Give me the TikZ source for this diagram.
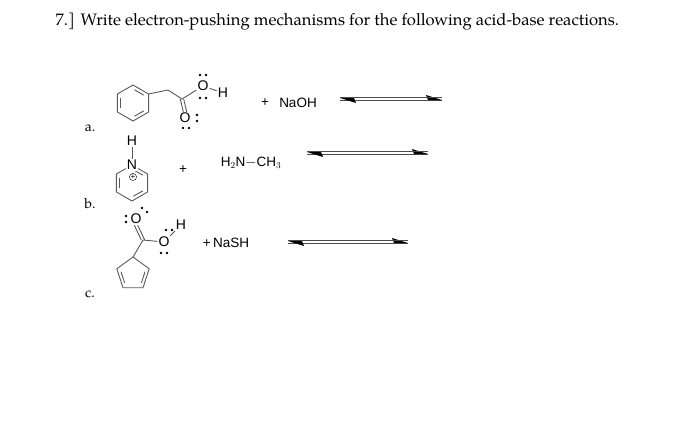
\documentclass[tikz,border=0pt]{standalone}
\usetikzlibrary{calc}
\usepackage{fontspec}
\setmainfont{TeX Gyre Pagella}
\newfontfamily\hv{Liberation Sans}
\begin{document}
\begin{tikzpicture}[x=1pt,y=-1pt,
  bond/.style={line width=0.9pt,black!65},
  lbl/.style={font=\hv\fontsize{13.5}{13.5}\selectfont,inner sep=0.5pt},
  atom/.style={font=\hv\fontsize{14}{14}\selectfont,inner sep=1pt,fill=white},
  eqtop/.style={line width=1.3pt,gray!60!black},
  lp/.style={circle,fill=black,inner sep=0.9pt}]
\useasboundingbox (0,0) rectangle (700,440);
\newcommand\inb[3]{\draw[bond] ($($(#3)!0.78!(#1)$)!0.12!($(#3)!0.78!(#2)$)$) -- ($($(#3)!0.78!(#2)$)!0.12!($(#3)!0.78!(#1)$)$);}
\node[anchor=west,font=\fontsize{16.6}{16.6}\selectfont] (title) at (52,22) {7.] Write electron-pushing mechanisms for the following acid-base reactions.};
\node[font=\fontsize{14}{14}\selectfont] (la) at (90,128) {a.};
\node[font=\fontsize{14}{14}\selectfont] (lb) at (90,203) {b.};
\node[font=\fontsize{14}{14}\selectfont] (lc) at (90,294) {c.};
% a
\coordinate (bc) at (133,103);
\foreach \i in {0,...,5}{\coordinate (b\i) at ({133+18*cos(30+60*\i)},{103-18*sin(30+60*\i)});}
\draw[bond] (b0)--(b1)--(b2)--(b3)--(b4)--(b5)--cycle;
\inb{b2}{b3}{bc} \inb{b0}{b1}{bc} \inb{b4}{b5}{bc}
\coordinate (ch2) at (168,90);
\coordinate (ca) at (182,99);
\node[atom] (oa1) at (185,118) {O};
\node[atom] (oa2) at (203,86) {O};
\node[atom] (ha) at (223,93) {H};
\draw[bond] (b0)--(ch2)--(ca)--(oa2);
\draw[bond] (oa2)--(ha);
\draw[bond] ([xshift=-1.7]ca)--([xshift=-1.7]oa1.north);
\draw[bond] ([xshift=1.7]ca)--([xshift=1.7]oa1.north);
\foreach \p in {(200,75),(206,75),(200,98),(206,98),(197,115),(197,121),(183,128),(189,128)} \node[lp] at \p {};
\node[lbl] (pa) at (265,103) {+};
\node[lbl] (na) at (298,103) {NaOH};
\coordinate (a1) at (340,99); \coordinate (a2) at (442,99);
% b
\coordinate (pc) at (132,183);
\foreach \i in {0,...,5}{\coordinate (p\i) at ({132+18*cos(30+60*\i)},{183-18*sin(30+60*\i)});}
\node[atom] (nb) at (p1) {N};
\node[atom] (hb) at (132,141) {H};
\draw[bond] (nb)--(hb);
\draw[bond] (nb)--(p2)--(p3)--(p4)--(p5)--(p0)--(nb);
\inb{p2}{p3}{pc} \inb{p4}{p5}{pc} \inb{p0}{p1}{pc}
\node[atom] at (p1) {N};
\node[draw,circle,inner sep=0.2pt,font=\hv\fontsize{8}{8}\selectfont] (chg) at (133,177) {+};
\node[lbl] (pb) at (183,170) {+};
\node[lbl] (mb) at (251,163) {H$_2$N$-$CH$_3$};
\coordinate (b1a) at (307,153); \coordinate (b2a) at (428,153);
% c
\coordinate (cc) at (143,240);
\node[atom] (oc1) at (136,219) {O};
\node[atom] (oc2) at (164,242) {O};
\node[atom] (hc) at (181,225) {H};
\draw[bond] ([xshift=-1.7]cc)--([xshift=-1.7]oc1.south);
\draw[bond] ([xshift=1.7]cc)--([xshift=1.7]oc1.south);
\draw[bond] (cc)--(oc2); \draw[bond] (oc2)--(hc);
\foreach \p in {(126,216),(126,222),(142,208),(147,212),(166,230),(172,230),(161,253),(167,253)} \node[lp] at \p {};
\coordinate (qc) at (133,274);
\foreach \i in {0,...,4}{\coordinate (q\i) at ({133+17*cos(90+72*\i)},{274-17*sin(90+72*\i)});}
\draw[bond] (cc)--(q0);
\draw[bond] (q0)--(q1)--(q2)--(q3)--(q4)--cycle;
\inb{q1}{q2}{qc} \inb{q3}{q4}{qc}
\node[lbl] (nc) at (226,243) {+\,NaSH};
\coordinate (c1) at (288,242); \coordinate (c2) at (408,242);
% equilibrium arrows
\foreach \s/\e in {a1/a2,b1a/b2a,c1/c2}{
  \draw[eqtop] ([yshift=-1.6]\s)--([yshift=-1.6]\e);
  \fill ([yshift=-1]\e) -- ++(-16,-5) -- ++(2,5) -- cycle;
  \draw[eqtop] ([yshift=1.6]\s)--([yshift=1.6]\e);
  \fill ([yshift=1]\s) -- ++(16,5) -- ++(-2,-5) -- cycle;
}
\end{tikzpicture}
\end{document}
